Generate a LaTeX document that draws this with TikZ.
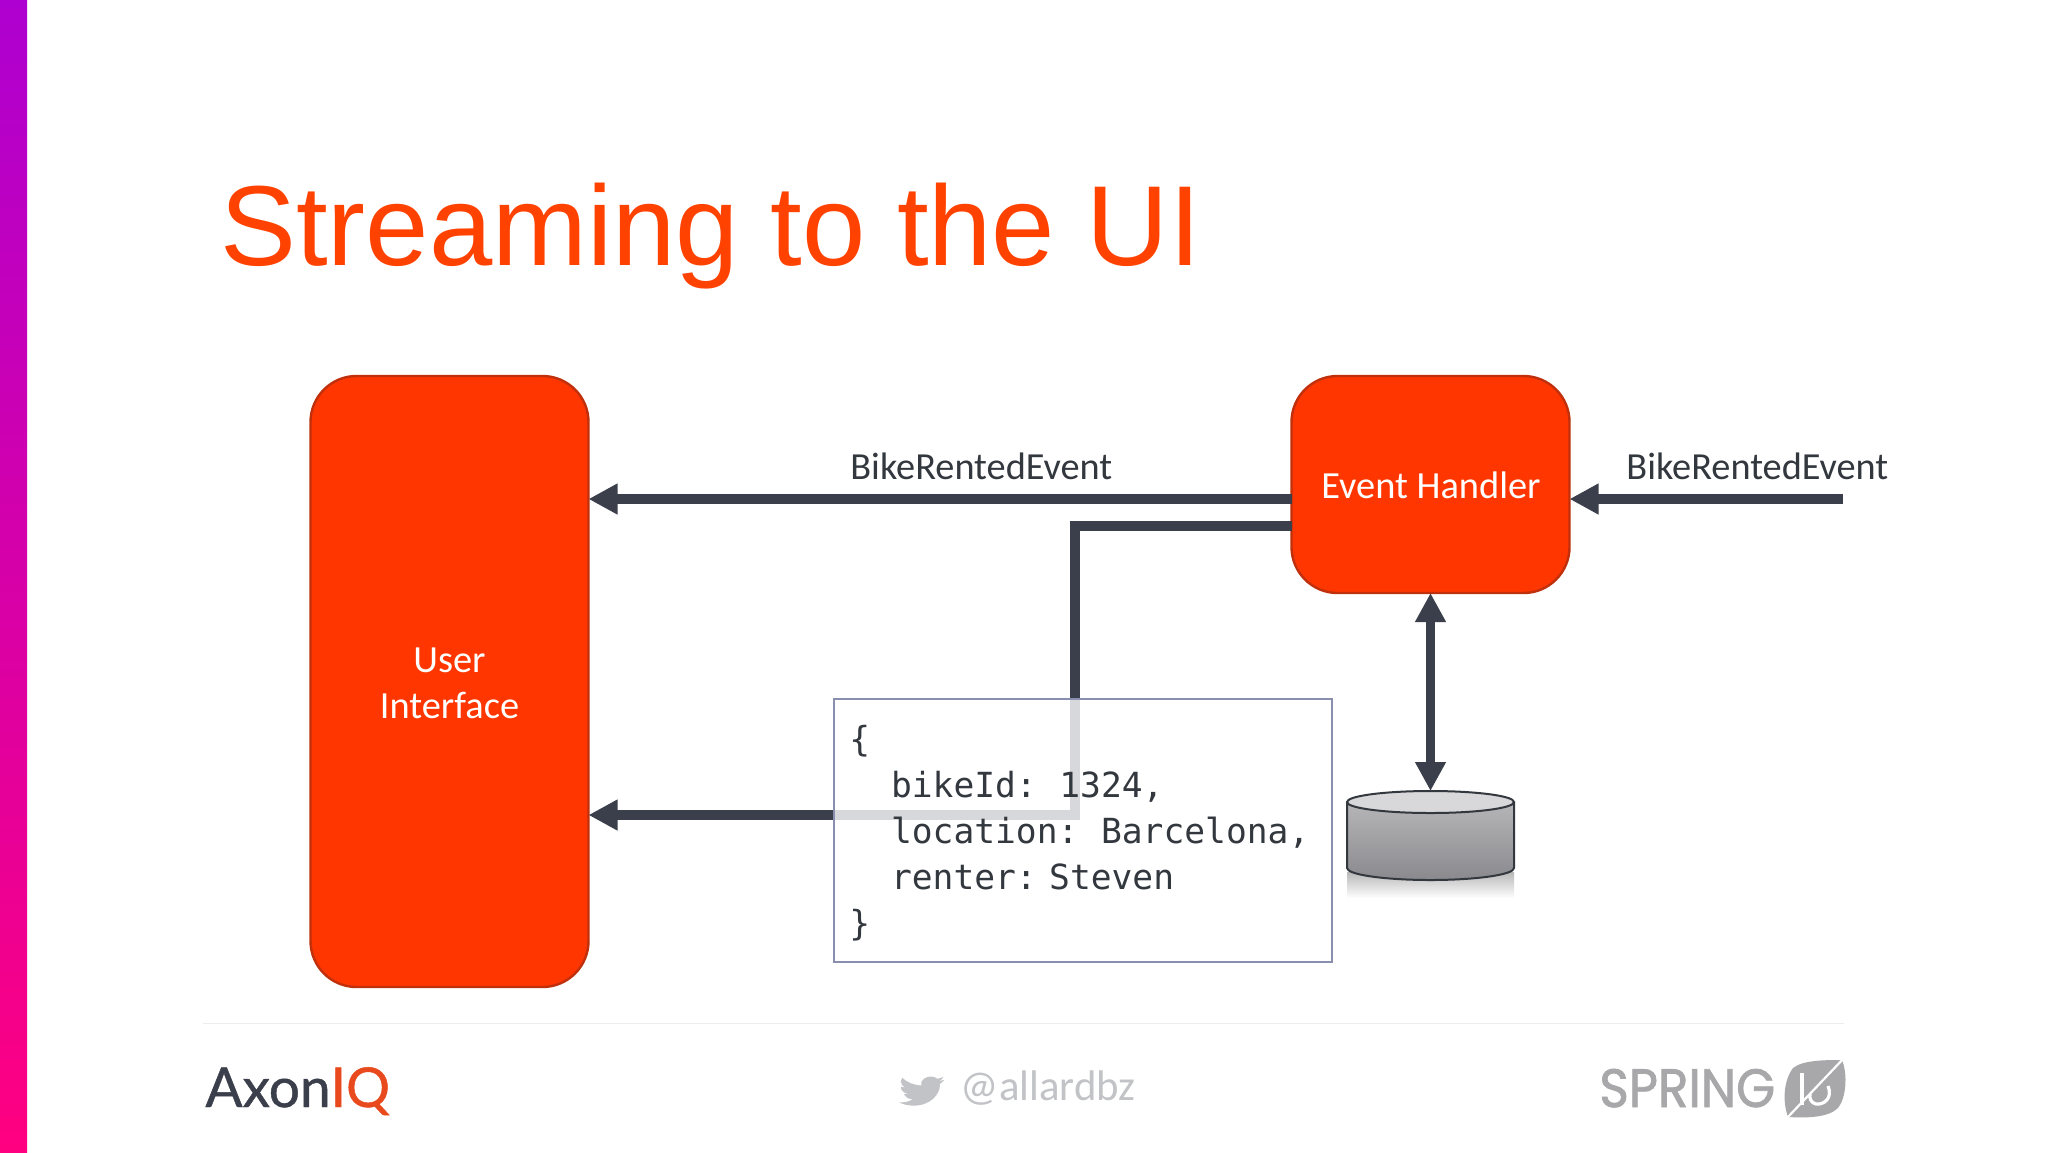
\documentclass[tikz,border=0pt]{standalone}
\usepackage{fontspec}
\setmainfont{Carlito}
\newfontfamily\titlefont{Liberation Sans}
\newfontfamily\codefont{DejaVu Sans Mono}
\newfontfamily\logofont[FakeBold=0.8]{Lato}
\newfontfamily\springfont[FakeBold=1.5]{Poppins}
\usetikzlibrary{arrows.meta}
\definecolor{brand}{HTML}{FF3600}
\definecolor{brandline}{HTML}{C0300C}
\definecolor{titlecol}{HTML}{FF4200}
\definecolor{slate}{HTML}{3A3F4B}
\definecolor{inkcol}{HTML}{33383F}
\definecolor{softgrey}{HTML}{C2C3C6}
\definecolor{logogrey}{HTML}{A8A8AA}
\definecolor{iqorange}{HTML}{E8491D}
\tikzset{
  procbox/.style={draw=brandline,fill=brand,line width=1.2pt,rounded corners=23pt,outer sep=0pt,
    text=white,inner sep=0pt,align=center,font=\fontsize{19.2}{23}\selectfont},
  conn/.style={draw=slate,line width=4.8pt,line join=miter},
  tipped/.style={conn,-{Triangle[length=14.5pt,width=14.5pt]}},
  evlabel/.style={anchor=base west,inner sep=0pt,text=inkcol,font=\fontsize{19.15}{22}\selectfont},
  codebox/.style={draw=none,fill=white,fill opacity=0.8,text opacity=1,inner sep=0pt,outer sep=0pt,anchor=north west,
    minimum width=249pt,minimum height=131.5pt},
}
\begin{document}
\begin{tikzpicture}[x=0.5pt,y=-0.5pt]
\useasboundingbox (0,0) rectangle (2048,1152);
\fill[white] (0,0) rectangle (2048,1152);
\shade[top color={rgb,255:red,174;green,0;blue,208},bottom color={rgb,255:red,255;green,0;blue,128}] (0,0) rectangle (27,1152);

% title
\node[anchor=base west,inner sep=0pt,text=titlecol,font=\titlefont\fontsize{56.9}{60}\selectfont] (title) at (220,265) {Streaming to the UI};

% anchors
\coordinate (r1) at (1000,499);
\coordinate (r2) at (1000,526);
\coordinate (r3) at (1000,815);
\coordinate (turnA) at (1075,526);
\coordinate (turnB) at (1075,815);
\coordinate (feed) at (1843,499);

% nodes
\node[procbox,minimum width=139pt,minimum height=305.5pt] (ui) at (449.5,681.5) {};
\node[anchor=base,inner sep=0pt,text=white,align=center,font=\fontsize{19.2}{23}\selectfont] (uitext) at (449.5,718) {User\\Interface};
\node[procbox,minimum width=139pt,minimum height=108.5pt] (eh) at (1430.5,484.5) {};
\node[anchor=base,inner sep=0pt,text=white,font=\fontsize{19.2}{23}\selectfont] (ehtext) at (1431,498) {Event Handler};
\node[inner sep=0pt,outer sep=0pt,minimum width=83.5pt,minimum height=44.5pt] (db) at (1430.5,835.5) {};

% connectors
\draw[tipped] (eh.west |- r1) -- (ui.east |- r1);
\draw[tipped] (eh.west |- r2) -- (turnA) -- (turnB) -- (ui.east |- r3);
\draw[tipped] (feed) -- (eh.east |- feed);
\draw[conn,{Triangle[length=14.5pt,width=14.5pt]}-{Triangle[length=14.5pt,width=14.5pt]}] (eh.south) -- (db.north);

\node[evlabel] (lblA) at (850,479) {BikeRentedEvent};
\node[evlabel] (lblB) at (1626,479) {BikeRentedEvent};

% code box
\node[codebox] (code) at (834,699) {};
\draw[draw={rgb,255:red,138;green,143;blue,176},line width=0.75pt] (code.north west) rectangle (code.south east);
\node[anchor=base west,inner sep=0pt,text=inkcol,align=left,font=\codefont\fontsize{17.3}{23}\selectfont] (codetext) at (849,935)
{\{\\
\hspace*{20.8pt}bikeId:\hspace{-2.6pt} 1324,\\
\hspace*{20.8pt}location:\hspace{-2.6pt} Barcelona,\\
\hspace*{20.8pt}renter:\hspace{-7.7pt} Steven\\
\}};

% database
\shade[top color=black!28,bottom color=white] (1347,872) rectangle (1514,898);
\shade[top color={rgb,255:red,182;green,182;blue,185},bottom color={rgb,255:red,138;green,138;blue,142}]
  (1347,802) -- (1347,868) arc[start angle=180,end angle=360,x radius=83.5,y radius=-12] -- (1514,802) -- cycle;
\draw[draw=inkcol,line width=1pt] (1347,802) -- (1347,868) arc[start angle=180,end angle=360,x radius=83.5,y radius=-12] -- (1514,802);
\draw[draw=inkcol,fill={rgb,255:red,216;green,216;blue,218},line width=1pt] (1430.5,802) ellipse[x radius=83.5,y radius=11];

% footer
\draw[draw=black!7,line width=0.5pt] (203,1023) -- (1844,1023);
\node[anchor=base west,inner sep=0pt,text=slate,font=\logofont\fontsize{27.5}{30}\selectfont] (axon) at (205,1107) {Axon\textcolor{iqorange}{IQ}};

% bird
\begin{scope}[shift={(899,1073)},x=0.95pt,y=-0.75pt]
\fill[softgrey] (23.95,4.57) .. controls (23,5) and (22.2,5.25) .. (21.13,5.35)
 .. controls (22.2,4.7) and (23,3.7) .. (23.29,2.62)
 .. controls (22.3,3.2) and (21.3,3.6) .. (20.16,3.81)
 .. controls (17,0.5) and (10.7,3.4) .. (11.78,8.29)
 .. controls (7.69,8.1) and (4.07,6.13) .. (1.64,3.16)
 .. controls (1.2,3.9) and (0.97,4.7) .. (0.97,5.64)
 .. controls (0.97,7.35) and (1.84,8.85) .. (3.16,9.73)
 .. controls (2.4,9.7) and (1.6,9.5) .. (0.93,9.12)
 -- (0.93,9.18)
 .. controls (0.93,11.56) and (2.63,13.55) .. (4.88,14)
 .. controls (4.2,14.2) and (3.4,14.2) .. (2.67,14.09)
 .. controls (3.3,15.95) and (5,17.45) .. (7.27,17.5)
 .. controls (5.6,18.8) and (3.4,19.6) .. (1.17,19.6)
 .. controls (0.78,19.6) and (0.39,19.58) .. (0,19.54)
 .. controls (2.2,20.9) and (4.8,21.75) .. (7.56,21.75)
 .. controls (16.6,21.75) and (21.55,14.25) .. (21.55,7.77)
 -- (21.54,7.14)
 .. controls (22.5,6.5) and (23.3,5.6) .. (23.95,4.57) -- cycle;
\end{scope}
\node[anchor=base west,inner sep=0pt,text=softgrey,font=\fontsize{21.4}{24}\selectfont] (handle) at (960.5,1100) {@allardbz};

% spring logo
\node[anchor=base west,inner sep=0pt,text=logogrey,xscale=0.93,font=\springfont\fontsize{27}{30}\selectfont] (spring) at (1599,1107) {SPRING};
\fill[logogrey] (1842,1060) .. controls (1848,1075) and (1846,1098) .. (1838,1108)
  .. controls (1828,1118) and (1805,1118) .. (1788,1117)
  .. controls (1782,1100) and (1784,1080) .. (1793,1068)
  .. controls (1803,1060) and (1825,1060) .. cycle;
\draw[white,line width=1.1pt] (1844,1058) -- (1786,1119);
\draw[white,line width=1.6pt] (1802,1073) -- (1802,1105);
\draw[white,line width=1.6pt] (1828,1086) .. controls (1833,1098) and (1824,1105) .. (1816,1104) .. controls (1811,1103) and (1809,1098) .. (1810,1094);
\end{tikzpicture}
\end{document}
